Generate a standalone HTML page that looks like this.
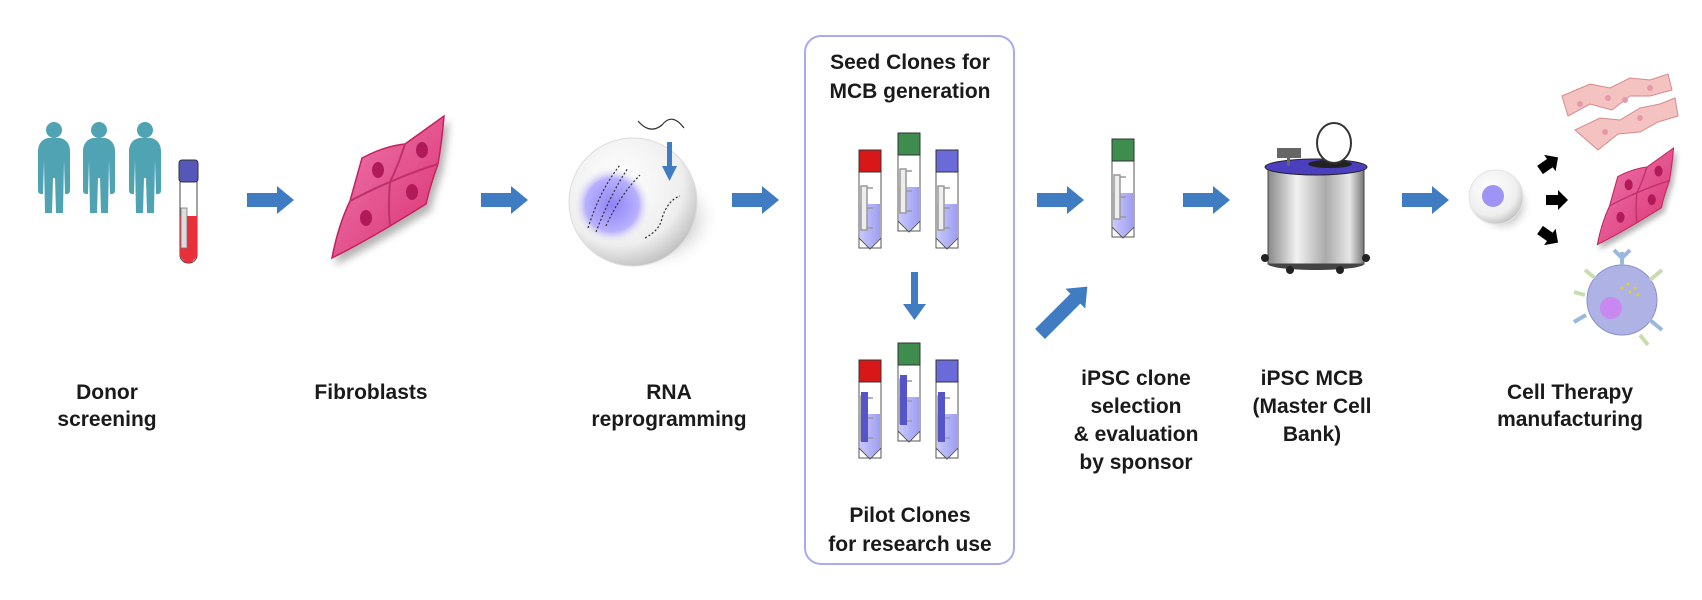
<!DOCTYPE html>
<html><head><meta charset="utf-8"><style>
html,body{margin:0;padding:0;background:#fff}
svg{display:block}
text{font-family:"Liberation Sans",sans-serif;font-weight:bold;fill:#1a1a1a;font-size:21px;text-anchor:middle}
</style></head><body>
<svg width="1702" height="600" viewBox="0 0 1702 600" xmlns="http://www.w3.org/2000/svg">
<defs>
<g id="arr"><polygon points="0,-7 30,-7 30,-14 47,0 30,14 30,7 0,7" fill="#3f7cc2"/></g>
<g id="person" fill="#4fa3b3">
<circle cx="0" cy="10" r="8"/>
<path d="M-6,18 L6,18 Q15,20 16,30 L16,70 Q16,74 13,74 L11,74 L10,40 L9,93 L2,93 L1,58 L-1,58 L-2,93 L-9,93 L-10,40 L-11,74 L-13,74 Q-16,74 -16,70 L-16,30 Q-15,20 -6,18Z"/>
</g>
<linearGradient id="pink" x1="0" y1="0" x2="1" y2="1"><stop offset="0" stop-color="#f07ab0"/><stop offset="1" stop-color="#d8306f"/></linearGradient>
<filter id="ds" x="-20%" y="-20%" width="150%" height="150%"><feDropShadow dx="4" dy="6" stdDeviation="4" flood-color="#000" flood-opacity=".3"/></filter>
<g id="fib">
<path d="M2,142 Q8,110 20,85 L32,42 Q55,30 75,28 Q100,10 114,0 Q112,25 108,48 Q100,70 96,88 Q80,98 60,110 Q30,128 2,142Z" fill="url(#pink)" stroke="#c4205c" stroke-width="1.5" filter="url(#ds)"/>
<path d="M20,85 Q45,72 60,66 Q85,55 108,48" fill="none" stroke="#c0306a" stroke-width="2"/>
<path d="M75,28 Q68,50 60,66 Q58,90 60,110" fill="none" stroke="#c0306a" stroke-width="2"/>
<ellipse cx="48" cy="54" rx="6" ry="8" fill="#b01a58"/><ellipse cx="92" cy="34" rx="6" ry="8" fill="#b01a58"/>
<ellipse cx="36" cy="102" rx="6" ry="8" fill="#b01a58"/><ellipse cx="82" cy="76" rx="6" ry="8" fill="#b01a58"/>
</g>
<linearGradient id="liq" x1="0" x2="1"><stop offset="0" stop-color="#c8c8ff"/><stop offset="1" stop-color="#9e9ef0"/></linearGradient>
<g id="vial">
<rect x="1" y="22" width="22" height="76" fill="#fff" stroke="#555" stroke-width="1"/>
<path d="M2,54 L22,54 L22,88 L12,98 L2,88Z" fill="url(#liq)"/>
<path d="M1,88 L12,99 L23,88" fill="none" stroke="#555"/>
<path d="M3,36 L9,36 L9,80 L3,80Z M9,38 L15,38 M9,58 L15,58 M9,78 L15,78" fill="#eee" stroke="#999" stroke-width="1.5"/>
</g>
<radialGradient id="sph" cx=".4" cy=".35" r=".7"><stop offset="0" stop-color="#fff"/><stop offset=".7" stop-color="#eee"/><stop offset="1" stop-color="#bbb"/></radialGradient>
<radialGradient id="nuc"><stop offset="0" stop-color="#8f84f5"/><stop offset=".7" stop-color="#b8b0ff"/><stop offset="1" stop-color="#eee" stop-opacity="0"/></radialGradient>
<radialGradient id="shadow"><stop offset=".5" stop-color="#999" stop-opacity=".6"/><stop offset="1" stop-color="#fff" stop-opacity="0"/></radialGradient>
<linearGradient id="steel" x1="0" x2="1"><stop offset="0" stop-color="#888"/><stop offset=".3" stop-color="#f2f2f2"/><stop offset=".6" stop-color="#aaa"/><stop offset=".85" stop-color="#e6e6e6"/><stop offset="1" stop-color="#777"/></linearGradient>
</defs>

<use href="#person" x="54" y="120"/><use href="#person" x="99" y="120"/><use href="#person" x="145" y="120"/>
<rect x="180" y="171" width="17" height="92" rx="8" fill="#fff" stroke="#444"/>
<path d="M180,216 L197,216 L197,256 Q188,270 180,256Z" fill="#e8303a"/>
<rect x="181" y="208" width="6" height="40" fill="#ddd" stroke="#777" stroke-width=".8"/>
<rect x="179" y="160" width="19" height="22" rx="3" fill="#5558b8" stroke="#333"/>

<use href="#arr" x="247" y="200"/>
<use href="#fib" x="330" y="116"/>
<use href="#arr" x="481" y="200"/>

<ellipse cx="650" cy="218" rx="70" ry="55" fill="url(#shadow)"/>
<circle cx="633" cy="202" r="64" fill="url(#sph)" stroke="#ddd"/>
<circle cx="612" cy="205" r="38" fill="url(#nuc)"/>
<path d="M588,228 Q600,190 620,165 M596,232 Q610,195 628,168 M606,226 Q620,195 640,175" fill="none" stroke="#333" stroke-width="1.2" stroke-dasharray="2 2"/>
<path d="M645,238 Q660,230 662,218 Q668,200 680,196" fill="none" stroke="#333" stroke-width="1.2" stroke-dasharray="2 2"/>
<path d="M638,121 Q650,135 662,125 Q672,112 684,128" fill="none" stroke="#333" stroke-width="1.2"/>
<rect x="667" y="142" width="5" height="26" fill="#3f7cc2"/><polygon points="662,166 677,166 669.5,181" fill="#3f7cc2"/>

<use href="#arr" x="732" y="200"/>

<rect x="805" y="36" width="209" height="528" rx="16" fill="none" stroke="#a9a9f2" stroke-width="2"/>
<text x="910" y="69">Seed Clones for</text>
<text x="910" y="98">MCB generation</text>
<use href="#vial" x="858" y="150"/><rect x="859" y="150" width="22" height="22" fill="#d81818" stroke="#333"/>
<use href="#vial" x="897" y="133"/><rect x="898" y="133" width="22" height="22" fill="#3e8c4e" stroke="#333"/>
<use href="#vial" x="935" y="150"/><rect x="936" y="150" width="22" height="22" fill="#6a6ad8" stroke="#333"/>
<rect x="911" y="272" width="7" height="34" fill="#3f7cc2"/><polygon points="903,304 926,304 914.5,320" fill="#3f7cc2"/>
<use href="#vial" x="858" y="360"/><rect x="859" y="360" width="22" height="22" fill="#d81818" stroke="#333"/>
<use href="#vial" x="897" y="343"/><rect x="898" y="343" width="22" height="22" fill="#3e8c4e" stroke="#333"/>
<use href="#vial" x="935" y="360"/><rect x="936" y="360" width="22" height="22" fill="#6a6ad8" stroke="#333"/>
<rect x="861" y="392" width="7" height="50" fill="#5555c8"/><rect x="900" y="375" width="7" height="50" fill="#5555c8"/><rect x="938" y="392" width="7" height="50" fill="#5555c8"/>
<text x="910" y="522">Pilot Clones</text>
<text x="910" y="551">for research use</text>

<use href="#arr" x="1037" y="200"/>
<g transform="translate(1040,334) rotate(-45)"><polygon points="0,-7 50,-7 50,-14 67,0 50,14 50,7 0,7" fill="#3f7cc2"/></g>
<use href="#vial" x="1111" y="139"/><rect x="1112" y="139" width="22" height="22" fill="#3e8c4e" stroke="#333"/>

<use href="#arr" x="1183" y="200"/>
<ellipse cx="1316" cy="264" rx="48" ry="6" fill="#444"/>
<rect x="1268" y="170" width="96" height="94" fill="url(#steel)" stroke="#444"/>
<ellipse cx="1316" cy="167" rx="51" ry="8" fill="#4b3fc0" stroke="#222"/>
<ellipse cx="1330" cy="164" rx="22" ry="4" fill="#222"/>
<ellipse cx="1334" cy="143" rx="17" ry="20" fill="#fff" stroke="#333" stroke-width="2"/>
<rect x="1277" y="148" width="24" height="10" fill="#666"/><rect x="1287" y="158" width="3" height="8" fill="#666"/>
<circle cx="1265" cy="258" r="4" fill="#222"/><circle cx="1366" cy="258" r="4" fill="#222"/><circle cx="1290" cy="270" r="4" fill="#222"/><circle cx="1340" cy="270" r="4" fill="#222"/>

<use href="#arr" x="1402" y="200"/>
<circle cx="1503" cy="205" r="30" fill="url(#shadow)"/>
<circle cx="1496" cy="197" r="27" fill="url(#sph)" stroke="#e4e4e4"/>
<circle cx="1493" cy="196" r="11" fill="#9d94f5"/>
<g fill="#000">
<g transform="translate(1540,170) rotate(-35)"><polygon points="0,-5 12,-5 12,-10 22,0 12,10 12,5 0,5"/></g>
<g transform="translate(1546,200)"><polygon points="0,-5 12,-5 12,-10 22,0 12,10 12,5 0,5"/></g>
<g transform="translate(1540,230) rotate(35)"><polygon points="0,-5 12,-5 12,-10 22,0 12,10 12,5 0,5"/></g>
</g>
<g fill="#f5c2c2" stroke="#d68a8a" stroke-width="1">
<path d="M1562,96 L1590,84 L1610,88 L1630,78 L1650,80 L1668,74 L1672,90 L1650,96 L1630,96 L1612,110 L1590,104 L1568,116Z"/>
<path d="M1575,130 L1600,118 L1620,120 L1640,108 L1660,104 L1675,98 L1678,116 L1658,122 L1640,132 L1618,134 L1598,150Z"/>
</g>
<g fill="#e69aa8"><circle cx="1580" cy="104" r="3"/><circle cx="1608" cy="98" r="3"/><circle cx="1650" cy="88" r="3"/><circle cx="1605" cy="132" r="3"/><circle cx="1640" cy="118" r="3"/><circle cx="1625" cy="100" r="3"/></g>
<use href="#fib" transform="translate(1596,148) scale(0.68,0.68)"/>
<circle cx="1622" cy="300" r="35" fill="#aeb2e4" stroke="#8a8fcc"/>
<circle cx="1611" cy="308" r="11" fill="#c988f0"/>
<g fill="#e0d020"><circle cx="1628" cy="284" r="1.5"/><circle cx="1635" cy="288" r="1.5"/><circle cx="1630" cy="292" r="1.5"/><circle cx="1638" cy="295" r="1.5"/><circle cx="1622" cy="288" r="1.5"/></g>
<g stroke="#9bb8dc" stroke-width="4" fill="none"><path d="M1622,265 L1622,252 M1622,258 L1614,250 M1622,258 L1630,250"/><path d="M1650,320 L1662,330 M1586,315 L1574,322"/></g>
<g stroke="#c8dcb0" stroke-width="4" fill="none"><path d="M1595,278 L1585,270 M1650,280 L1662,270 M1640,335 L1648,345 M1585,295 L1574,292"/></g>

<text x="107" y="399">Donor</text><text x="107" y="426">screening</text>
<text x="371" y="399">Fibroblasts</text>
<text x="669" y="399">RNA</text><text x="669" y="426">reprogramming</text>
<text x="1136" y="385">iPSC clone</text><text x="1136" y="413">selection</text><text x="1136" y="441">&amp; evaluation</text><text x="1136" y="469">by sponsor</text>
<text x="1312" y="385">iPSC MCB</text><text x="1312" y="413">(Master Cell</text><text x="1312" y="441">Bank)</text>
<text x="1570" y="399">Cell Therapy</text><text x="1570" y="426">manufacturing</text>
</svg>
</body></html>
